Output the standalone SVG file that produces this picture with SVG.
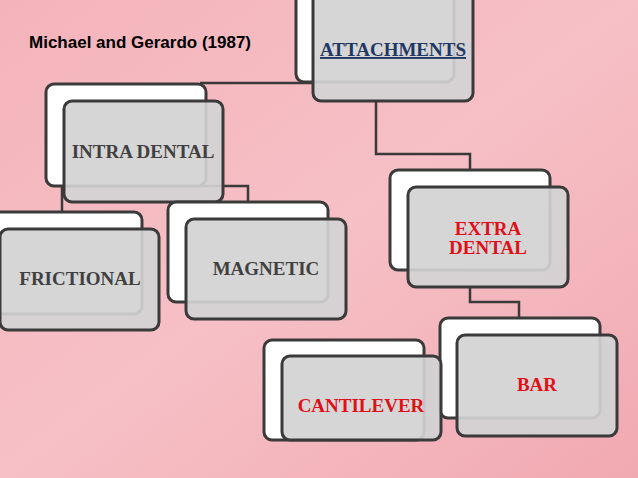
<svg xmlns="http://www.w3.org/2000/svg" width="638" height="478" viewBox="0 0 638 478">
<defs>
<linearGradient id="bg" x1="0" y1="0" x2="1" y2="1"><stop offset="0" stop-color="#f4b3ba"/><stop offset="0.5" stop-color="#f6c0c6"/><stop offset="1" stop-color="#f1a9b1"/></linearGradient>
</defs>
<style>
.b{fill:#fff;stroke:#3a3a3a;stroke-width:3}
.f{fill:#d2d2d4;fill-opacity:.92;stroke:#3a3a3a;stroke-width:3}
.t{font-family:"Liberation Serif",serif;font-weight:bold;font-size:19px;text-anchor:middle;fill:#404040}
.r{fill:#e01018}
.c{fill:none;stroke:#3a3a3a;stroke-width:2.5}
</style>
<rect width="638" height="478" fill="url(#bg)"/>
<text x="29" y="48" font-family="Liberation Sans,sans-serif" font-weight="bold" font-size="17" fill="#000">Michael and Gerardo (1987)</text>
<g id="connectors">
<polyline class="c" points="200,83 313,83"/>
<polyline class="c" points="376,101 376,154 470,154 470,170"/>
<polyline class="c" points="62,186 248,186 248,202"/>
<polyline class="c" points="62,186 62,212"/>
<polyline class="c" points="470,287 470,302 519,302 519,318"/>
</g>
<g id="attachments"><rect class="b" x="296" y="-10" width="158" height="92" rx="8"/><rect class="f" x="313" y="-8" width="160" height="109" rx="8"/><text class="t" x="393" y="56" style="fill:#1f3864;text-decoration:underline">ATTACHMENTS</text></g>
<g id="intra"><rect class="b" x="46" y="84" width="160" height="102" rx="8"/><rect class="f" x="64" y="101" width="159" height="101" rx="8"/><text class="t" x="143" y="158">INTRA DENTAL</text></g>
<g id="frictional"><rect class="b" x="-10" y="212" width="152" height="102" rx="8"/><rect class="f" x="0" y="229" width="159" height="101" rx="8"/><text class="t" x="80" y="285">FRICTIONAL</text></g>
<g id="magnetic"><rect class="b" x="168" y="202" width="160" height="100" rx="8"/><rect class="f" x="186" y="219" width="160" height="100" rx="8"/><text class="t" x="266" y="275">MAGNETIC</text></g>
<g id="extra"><rect class="b" x="390" y="170" width="160" height="100" rx="8"/><rect class="f" x="408" y="187" width="160" height="100" rx="8"/><text class="t r" x="488" y="235">EXTRA</text><text class="t r" x="488" y="254">DENTAL</text></g>
<g id="bar"><rect class="b" x="440" y="318" width="160" height="100" rx="8"/><rect class="f" x="457" y="335" width="160" height="101" rx="8"/><text class="t r" x="537" y="391">BAR</text></g>
<g id="cantilever"><rect class="b" x="264" y="340" width="160" height="100" rx="8"/><rect class="f" x="282" y="356" width="159" height="84" rx="8"/><text class="t r" x="361" y="412">CANTILEVER</text></g>
</svg>
